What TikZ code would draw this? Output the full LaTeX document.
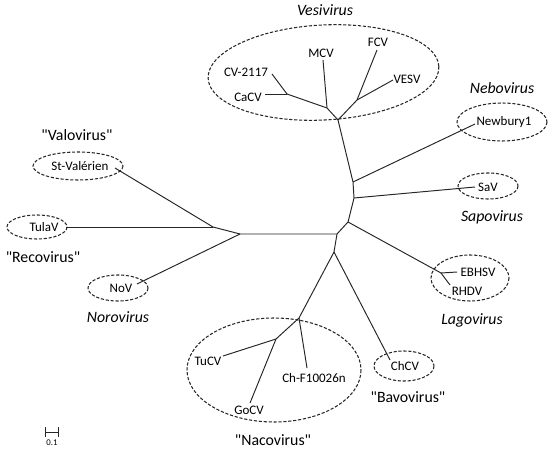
\documentclass[tikz,border=0pt]{standalone}
\usepackage{fontspec}
\setmainfont{Carlito}[Ligatures=TeXOff]
\tikzset{
	branch/.style={black!85, line width=0.55pt},
	clade/.style={black!85, line width=0.6pt, dash pattern=on 1.8pt off 1pt},
	leaf/.style={font=\fontsize{7.4}{8}\selectfont, inner sep=0pt},
	genus/.style={font=\fontsize{9}{10}\selectfont\itshape, inner sep=0pt},
	tentative/.style={font=\fontsize{9}{10}\selectfont, inner sep=0pt},
}
\begin{document}
\begin{tikzpicture}[x=0.02cm, y=-0.02cm]
		\useasboundingbox (0, 0) rectangle (550, 452);

		% inner branch points
		\coordinate (ves)	at (338, 120);
		\coordinate (ves1)	at (327, 108);
		\coordinate (ves2)	at (287, 94);
		\coordinate (ves3)	at (357, 100);
		\coordinate (sp1)	at (353, 182);
		\coordinate (sp2)	at (354, 198);
		\coordinate (sp3)	at (348, 222);
		\coordinate (sp4)	at (337, 234);
		\coordinate (sp5)	at (334, 252);
		\coordinate (lag)	at (441, 273);
		\coordinate (nac1)	at (299, 318);
		\coordinate (nac2)	at (276, 339);
		\coordinate (lft)	at (240, 234);
		\coordinate (lft1)	at (213, 227);

		% leaf tips
		\coordinate (tCV2117)	at (272, 74);
		\coordinate (tCaCV)		at (265, 94);
		\coordinate (tMCV)		at (323, 60);
		\coordinate (tFCV)		at (377, 50);
		\coordinate (tVESV)		at (393, 80);
		\coordinate (tNewbury)	at (475, 124);
		\coordinate (tSaV)		at (475, 187);
		\coordinate (tEBHSV)	at (457, 272);
		\coordinate (tRHDV)		at (450, 285);
		\coordinate (tChCV)		at (390, 360);
		\coordinate (tChF)		at (307, 368);
		\coordinate (tTuCV)		at (223, 356);
		\coordinate (tGoCV)		at (250, 403);
		\coordinate (tStVal)	at (115, 168);
		\coordinate (tTulaV)	at (66, 227);
		\coordinate (tNoV)		at (137, 284);

		% tree
		\draw [branch]	(ves) -- (ves1) -- (ves2) -- (tCV2117);
		\draw [branch]	(ves2) -- (tCaCV);
		\draw [branch]	(ves1) -- (tMCV);
		\draw [branch]	(ves) -- (ves3) -- (tFCV);
		\draw [branch]	(ves3) -- (tVESV);
		\draw [branch]	(ves) -- (sp1) -- (sp2) -- (sp3) -- (sp4) -- (sp5) -- (nac1) -- (nac2) -- (tTuCV);
		\draw [branch]	(sp1) -- (tNewbury);
		\draw [branch]	(sp2) -- (tSaV);
		\draw [branch]	(sp3) -- (lag) -- (tEBHSV);
		\draw [branch]	(lag) -- (tRHDV);
		\draw [branch]	(sp4) -- (lft) -- (lft1) -- (tStVal);
		\draw [branch]	(lft1) -- (tTulaV);
		\draw [branch]	(lft) -- (tNoV);
		\draw [branch]	(sp5) -- (tChCV);
		\draw [branch]	(nac1) -- (tChF);
		\draw [branch]	(nac2) -- (tGoCV);

		% leaves
		\node [leaf] (CV2117)	at (246, 72) {CV-2117};
		\node [leaf] (CaCV)		at (248, 97) {CaCV};
		\node [leaf] (MCV)		at (321, 53) {MCV};
		\node [leaf] (FCV)		at (378, 42) {FCV};
		\node [leaf] (VESV)		at (407, 79) {VESV};
		\node [leaf] (Newbury)	at (504, 122) {Newbury1};
		\node [leaf] (SaV)		at (488, 187) {SaV};
		\node [leaf] (EBHSV)	at (478, 272) {EBHSV};
		\node [leaf] (RHDV)		at (467, 291) {RHDV};
		\node [leaf] (ChCV)		at (405, 366) {ChCV};
		\node [leaf] (ChF)		at (314, 378) {Ch-F10026n};
		\node [leaf] (TuCV)		at (208, 361) {TuCV};
		\node [leaf] (GoCV)		at (249, 410) {GoCV};
		\node [leaf] (StVal)	at (80, 166) {St-Valérien};
		\node [leaf] (TulaV)	at (44, 227) {TulaV};
		\node [leaf] (NoV)		at (121, 288) {NoV};

		% clades
		\draw [clade, rotate around={3:(323.5, 72.5)}]	(323.5, 72.5) ellipse [x radius=115.5, y radius=47.5];
		\draw [clade]	(502, 122) ellipse [x radius=45, y radius=19];
		\draw [clade]	(488, 186) ellipse [x radius=30, y radius=13];
		\draw [clade]	(470, 278) ellipse [x radius=39, y radius=23];
		\draw [clade]	(404, 366) ellipse [x radius=30, y radius=15];
		\draw [clade]	(274, 370) ellipse [x radius=87, y radius=52];
		\draw [clade]	(78, 166) ellipse [x radius=45, y radius=14];
		\draw [clade]	(37, 227) ellipse [x radius=30, y radius=12];
		\draw [clade]	(118, 288) ellipse [x radius=30, y radius=13];

		% genus names
		\node [genus] (Vesivirus)	at (325, 10) {Vesivirus};
		\node [genus] (Nebovirus)	at (502, 88) {Nebovirus};
		\node [genus] (Sapovirus)	at (492, 217) {Sapovirus};
		\node [genus] (Lagovirus)	at (472, 320) {Lagovirus};
		\node [genus] (Norovirus)	at (118, 317) {Norovirus};
		\node [tentative] (Bavovirus)	at (408, 397) {"Bavovirus"};
		\node [tentative] (Nacovirus)	at (273, 440) {"Nacovirus"};
		\node [tentative] (Recovirus)	at (43, 257) {"Recovirus"};
		\node [tentative] (Valovirus)	at (77, 135) {"Valovirus"};

		% scale
		\coordinate (bar0) at (45, 432);
		\coordinate (bar1) at (59, 432);
		\draw [branch, |-|]	(bar0) -- (bar1);
		\node [font=\fontsize{5}{6}\selectfont, inner sep=0pt] (barlabel) at (52, 443) {0.1};
\end{tikzpicture}
\end{document}
